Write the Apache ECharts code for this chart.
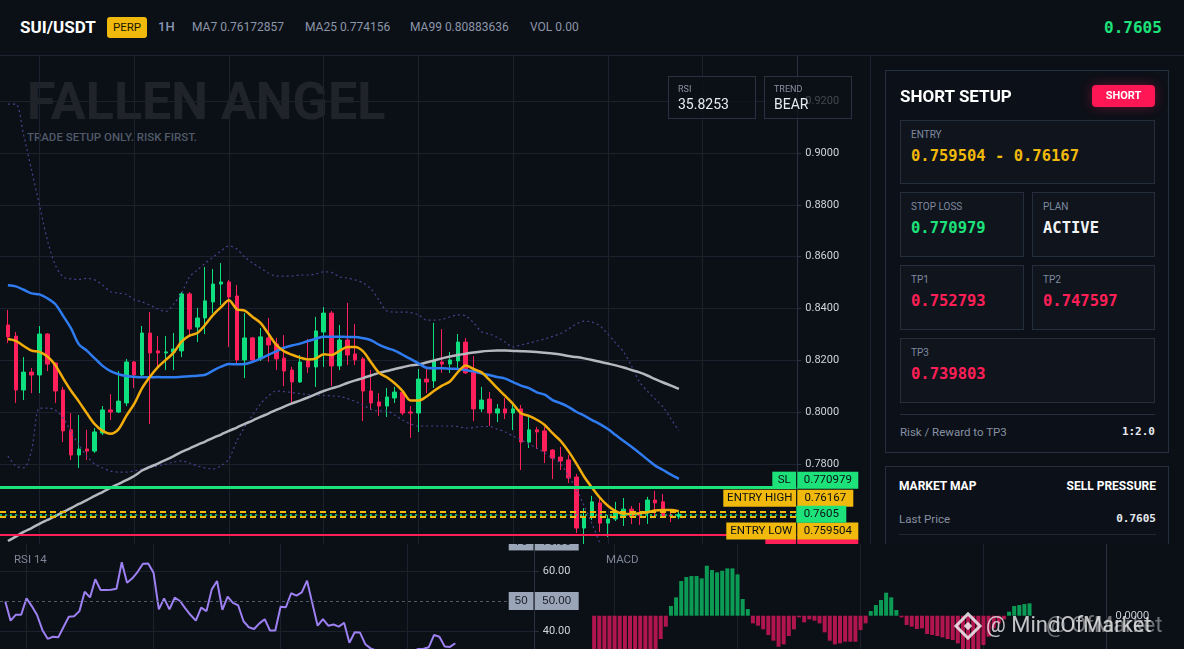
<!DOCTYPE html>
<html lang="en">
<head>
<meta charset="UTF-8">
<title>SUI/USDT Short Setup</title>
<script src="https://cdn.jsdelivr.net/npm/echarts@6/dist/echarts.min.js"></script>
<style>
  * { margin: 0; padding: 0; box-sizing: border-box; }
  body { width: 1184px; height: 649px; overflow: hidden; position: relative; background: #0b0f16; font-family: Roboto, "Noto Sans", sans-serif; color: #e6e9ee; }
  .abs { position: absolute; white-space: nowrap; }
  .mono { font-family: "DejaVu Sans Mono", monospace; font-weight: bold; }
  #header { left: 0; top: 0; width: 1184px; height: 56px; border-bottom: 1px solid #1d2431; }
  .hd { top: 17px; line-height: 20px; font-size: 12px; color: #8b96a9; }
  #main { left: 0; top: 56px; width: 871px; height: 489px; overflow: hidden; border-right: 1px solid #1b2230; }
  #mainChart { position: absolute; left: 0; top: -20px; width: 870px; height: 560px; }
  .info { top: 20px; width: 88px; height: 43px; border: 1px solid #283142; background: rgba(11, 15, 22, 0.72); }
  .info .l { position: absolute; left: 9px; top: 7px; line-height: 10px; font-size: 9px; color: #8a93a3; }
  .info .v { position: absolute; left: 9px; top: 18px; line-height: 18px; font-size: 14px; color: #e8ecf2; }
  .card { background: #0c1018; border: 1px solid #243040; }
  .box { position: absolute; background: #0f141d; border: 1px solid #252e3d; }
  .box .lbl { position: absolute; left: 10px; top: 8px; line-height: 12px; font-size: 10px; color: #7f8aa0; }
  .box .val { position: absolute; left: 10px; top: 25px; line-height: 20px; font-size: 15.5px; }
  .panel { top: 544px; height: 105px; overflow: hidden; background: #0b0f16; }
  .panel .chart { position: absolute; left: 0; top: -30px; height: 160px; }
  .ptitle { top: 8px; line-height: 14px; font-size: 11.5px; color: #7d8697; }
</style>
</head>
<body>
  <div id="header" class="abs">
    <div class="abs" style="left:20px;top:17px;line-height:20px;font-size:17px;font-weight:bold;color:#fff;">SUI/USDT</div>
    <div class="abs" style="left:107px;top:17px;width:40px;height:21px;line-height:21px;text-align:center;font-size:11.5px;color:#1b1600;background:#f0b90b;border-radius:3px;">PERP</div>
    <div class="abs hd" style="left:158px;font-size:13px;font-weight:500;color:#8797b4;">1H</div>
    <div class="abs hd" style="left:192px;">MA7 0.76172857</div>
    <div class="abs hd" style="left:305px;">MA25 0.774156</div>
    <div class="abs hd" style="left:410px;">MA99 0.80883636</div>
    <div class="abs hd" style="left:530px;">VOL 0.00</div>
    <div class="abs mono" style="left:1104px;top:16px;line-height:24px;font-size:16px;color:#1de27a;">0.7605</div>
  </div>

  <div id="main" class="abs">
    <div class="abs" style="left:27px;top:20px;line-height:52px;font-size:52px;font-weight:bold;color:rgba(255,255,255,0.085);">FALLEN ANGEL</div>
    <div class="abs" style="left:27px;top:74px;line-height:14px;font-size:11.5px;font-weight:500;color:#505a69;">TRADE SETUP ONLY. RISK FIRST.</div>
    <div id="mainChart"></div>
    <div class="abs info" style="left:668px;"><div class="l">RSI</div><div class="v">35.8253</div></div>
    <div class="abs info" style="left:764px;"><div class="l">TREND</div><div class="v">BEAR</div></div>
  </div>

  <div class="abs card" style="left:885px;top:70px;width:284px;height:383px;">
    <div class="abs" style="left:14px;top:15px;line-height:20px;font-size:17px;font-weight:bold;color:#fff;">SHORT SETUP</div>
    <div class="abs" style="left:206px;top:14px;width:63px;height:22px;line-height:22px;text-align:center;font-size:11px;font-weight:bold;color:#fff;background:#ff1654;border-radius:4px;box-shadow:0 0 12px rgba(255,22,84,0.35);">SHORT</div>
    <div class="box" style="left:14px;top:49px;width:255px;height:64px;">
      <div class="lbl">ENTRY</div><div class="val mono" style="color:#f0b90b;top:24.5px;">0.759504 - 0.76167</div>
    </div>
    <div class="box" style="left:14px;top:121px;width:124px;height:65px;">
      <div class="lbl">STOP LOSS</div><div class="val mono" style="color:#1de27a;">0.770979</div>
    </div>
    <div class="box" style="left:146px;top:121px;width:123px;height:65px;">
      <div class="lbl">PLAN</div><div class="val mono" style="color:#f2f4f7;">ACTIVE</div>
    </div>
    <div class="box" style="left:14px;top:194px;width:124px;height:65px;">
      <div class="lbl">TP1</div><div class="val mono" style="color:#ff1f57;">0.752793</div>
    </div>
    <div class="box" style="left:146px;top:194px;width:123px;height:65px;">
      <div class="lbl">TP2</div><div class="val mono" style="color:#ff1f57;">0.747597</div>
    </div>
    <div class="box" style="left:14px;top:267px;width:255px;height:65px;">
      <div class="lbl">TP3</div><div class="val mono" style="color:#ff1f57;">0.739803</div>
    </div>
    <div class="abs" style="left:14px;top:343px;width:255px;height:1px;background:#252e3d;"></div>
    <div class="abs" style="left:14px;top:354px;line-height:14px;font-size:11.5px;color:#8791a3;">Risk / Reward to TP3</div>
    <div class="abs mono" style="right:13px;top:354px;line-height:14px;font-size:11px;color:#e6e9ee;">1:2.0</div>
  </div>

  <div class="abs card" style="left:885px;top:466px;width:284px;height:110px;">
    <div class="abs" style="left:13px;top:11px;line-height:16px;font-size:12px;font-weight:bold;color:#fff;">MARKET MAP</div>
    <div class="abs" style="right:12px;top:11px;line-height:16px;font-size:12px;font-weight:bold;color:#fff;">SELL PRESSURE</div>
    <div class="abs" style="left:13px;top:45px;line-height:14px;font-size:11.5px;color:#8791a3;">Last Price</div>
    <div class="abs mono" style="right:12px;top:45px;line-height:14px;font-size:11px;color:#e6e9ee;">0.7605</div>
    <div class="abs" style="left:13px;top:67px;right:12px;height:1px;background:#1f2835;"></div>
  </div>

  <div class="abs panel" style="left:0;width:589px;">
    <div id="rsiChart" class="chart" style="width:589px;"></div>
    <div class="abs ptitle" style="left:14px;">RSI 14</div>
  </div>
  <div class="abs panel" style="left:589px;width:595px;">
    <div id="macdChart" class="chart" style="width:595px;"></div>
    <div class="abs ptitle" style="left:17px;">MACD</div>
  </div>

  <div class="abs" style="left:958px;top:616px;width:20px;height:20px;border:3px solid rgba(240,240,240,0.85);transform:rotate(45deg);"></div>
  <div class="abs" style="left:965px;top:623px;width:6px;height:6px;background:rgba(240,240,240,0.85);transform:rotate(45deg);"></div>
  <div class="abs" style="left:986px;top:611px;line-height:28px;font-size:22px;color:rgba(235,235,235,0.82);">@ MindOfMarket</div>
  <div class="abs" style="left:1046px;top:611px;line-height:28px;font-size:22px;color:rgba(235,235,235,0.45);">@ OfMarket</div>

<script>
  // candles: [open, close, low, high]
  const candles = [
    [0.8336, 0.8290, 0.8266, 0.8394], [0.8293, 0.8085, 0.8035, 0.8309], [0.8085, 0.8154, 0.8046, 0.8212],
    [0.8154, 0.8143, 0.8073, 0.8170], [0.8143, 0.8301, 0.8073, 0.8332], [0.8301, 0.8185, 0.8158, 0.8305],
    [0.8189, 0.8081, 0.8035, 0.8192], [0.8085, 0.7927, 0.7884, 0.8097], [0.7931, 0.7834, 0.7815, 0.7996],
    [0.7834, 0.7857, 0.7784, 0.7988], [0.7857, 0.7849, 0.7815, 0.7931], [0.7849, 0.7923, 0.7842, 0.7938],
    [0.7919, 0.8008, 0.7911, 0.8023], [0.8008, 0.8000, 0.7969, 0.8069], [0.8000, 0.8042, 0.7996, 0.8158],
    [0.8035, 0.8193, 0.8023, 0.8205], [0.8193, 0.8143, 0.8093, 0.8197], [0.8143, 0.8305, 0.8135, 0.8332],
    [0.8305, 0.8228, 0.7954, 0.8386], [0.8236, 0.8228, 0.8170, 0.8293], [0.8228, 0.8232, 0.8162, 0.8293],
    [0.8231, 0.8243, 0.8162, 0.8305], [0.8236, 0.8456, 0.8212, 0.8463], [0.8456, 0.8320, 0.8293, 0.8463],
    [0.8328, 0.8363, 0.8270, 0.8402], [0.8363, 0.8429, 0.8301, 0.8560], [0.8425, 0.8494, 0.8382, 0.8552],
    [0.8494, 0.8502, 0.8413, 0.8575], [0.8502, 0.8444, 0.8251, 0.8510], [0.8448, 0.8201, 0.8189, 0.8490],
    [0.8201, 0.8286, 0.8131, 0.8382], [0.8286, 0.8201, 0.8193, 0.8290], [0.8205, 0.8290, 0.8197, 0.8324],
    [0.8286, 0.8259, 0.8193, 0.8363], [0.8263, 0.8205, 0.8162, 0.8286], [0.8208, 0.8158, 0.8100, 0.8297],
    [0.8162, 0.8116, 0.8035, 0.8174], [0.8116, 0.8193, 0.8112, 0.8220], [0.8197, 0.8174, 0.8151, 0.8282],
    [0.8174, 0.8313, 0.8097, 0.8367], [0.8309, 0.8382, 0.8174, 0.8405], [0.8382, 0.8178, 0.8100, 0.8390],
    [0.8178, 0.8278, 0.8162, 0.8336], [0.8278, 0.8220, 0.8181, 0.8421], [0.8224, 0.8201, 0.8181, 0.8340],
    [0.8205, 0.8081, 0.7965, 0.8212], [0.8081, 0.8035, 0.8008, 0.8162], [0.8039, 0.8023, 0.7985, 0.8073],
    [0.8023, 0.8058, 0.7981, 0.8093], [0.8054, 0.8077, 0.8035, 0.8097], [0.8077, 0.7996, 0.7988, 0.8080],
    [0.8000, 0.7996, 0.7900, 0.8023], [0.7996, 0.8127, 0.7923, 0.8166], [0.8127, 0.8116, 0.8073, 0.8166],
    [0.8120, 0.8197, 0.8093, 0.8344], [0.8193, 0.8185, 0.8151, 0.8320], [0.8185, 0.8201, 0.8151, 0.8232],
    [0.8197, 0.8270, 0.8162, 0.8301], [0.8270, 0.8151, 0.8147, 0.8286], [0.8154, 0.8012, 0.7965, 0.8216],
    [0.8012, 0.8046, 0.8000, 0.8097], [0.8050, 0.7996, 0.7946, 0.8077], [0.7996, 0.8012, 0.7961, 0.8031],
    [0.8012, 0.7996, 0.7973, 0.8054], [0.7996, 0.8012, 0.7930, 0.8035], [0.8012, 0.7884, 0.7776, 0.8027],
    [0.7884, 0.7931, 0.7861, 0.7981], [0.7931, 0.7923, 0.7857, 0.7942], [0.7927, 0.7849, 0.7803, 0.7942],
    [0.7853, 0.7822, 0.7741, 0.7857], [0.7826, 0.7811, 0.7776, 0.7865], [0.7815, 0.7745, 0.7726, 0.7834],
    [0.7749, 0.7552, 0.7533, 0.7761], [0.7552, 0.7595, 0.7490, 0.7629], [0.7595, 0.7653, 0.7583, 0.7676],
    [0.7649, 0.7571, 0.7537, 0.7668], [0.7571, 0.7587, 0.7517, 0.7602], [0.7587, 0.7610, 0.7579, 0.7653],
    [0.7595, 0.7625, 0.7560, 0.7668], [0.7625, 0.7595, 0.7568, 0.7637], [0.7610, 0.7602, 0.7564, 0.7649],
    [0.7610, 0.7660, 0.7568, 0.7672], [0.7660, 0.7649, 0.7595, 0.7695], [0.7653, 0.7595, 0.7591, 0.7683],
    [0.7602, 0.7598, 0.7575, 0.7618], [0.7595, 0.7605, 0.7587, 0.7614]
  ];

  const ma7 = [
    0.8282, 0.8275, 0.8255, 0.8237, 0.8232, 0.8214, 0.8181, 0.8130, 0.8082, 0.8040,
    0.7995, 0.7953, 0.7927, 0.7916, 0.7933, 0.7985, 0.8031, 0.8092, 0.8136, 0.8173,
    0.8201, 0.8229, 0.8272, 0.8295, 0.8305, 0.8337, 0.8375, 0.8405, 0.8431, 0.8397,
    0.8391, 0.8367, 0.8344, 0.8302, 0.8259, 0.8234, 0.8221, 0.8210, 0.8203, 0.8206,
    0.8223, 0.8220, 0.8236, 0.8251, 0.8251, 0.8234, 0.8192, 0.8152, 0.8134, 0.8111,
    0.8081, 0.8044, 0.8044, 0.8059, 0.8082, 0.8102, 0.8118, 0.8154, 0.8180, 0.8166,
    0.8153, 0.8124, 0.8092, 0.8062, 0.8031, 0.7995, 0.7985, 0.7970, 0.7950, 0.7918,
    0.7889, 0.7849, 0.7802, 0.7750, 0.7708, 0.7669, 0.7638, 0.7617, 0.7606, 0.7606,
    0.7609, 0.7613, 0.7620, 0.7622, 0.7622, 0.7617
  ];
  const ma25 = [
    0.8489, 0.8485, 0.8472, 0.8458, 0.8454, 0.8439, 0.8417, 0.8371, 0.8323, 0.8261,
    0.8237, 0.8207, 0.8178, 0.8158, 0.8146, 0.8139, 0.8136, 0.8134, 0.8134, 0.8135,
    0.8134, 0.8134, 0.8136, 0.8138, 0.8140, 0.8144, 0.8160, 0.8175, 0.8185, 0.8184,
    0.8185, 0.8194, 0.8206, 0.8221, 0.8234, 0.8248, 0.8257, 0.8264, 0.8274, 0.8283,
    0.8291, 0.8291, 0.8291, 0.8290, 0.8290, 0.8285, 0.8277, 0.8260, 0.8247, 0.8237,
    0.8221, 0.8205, 0.8188, 0.8171, 0.8169, 0.8169, 0.8167, 0.8166, 0.8162, 0.8157,
    0.8149, 0.8143, 0.8135, 0.8129, 0.8115, 0.8102, 0.8092, 0.8076, 0.8067, 0.8046,
    0.8034, 0.8020, 0.8001, 0.7986, 0.7969, 0.7953, 0.7934, 0.7911, 0.7888, 0.7866,
    0.7842, 0.7817, 0.7793, 0.7776, 0.7758, 0.7742
  ];
  const ma99 = [
    0.7502, 0.7519, 0.7537, 0.7552, 0.7568, 0.7583, 0.7598, 0.7614, 0.7629, 0.7645,
    0.7660, 0.7676, 0.7691, 0.7707, 0.7722, 0.7737, 0.7753, 0.7774, 0.7788, 0.7801,
    0.7815, 0.7830, 0.7846, 0.7859, 0.7873, 0.7886, 0.7900, 0.7913, 0.7927, 0.7940,
    0.7954, 0.7967, 0.7981, 0.7994, 0.8008, 0.8021, 0.8033, 0.8044, 0.8056, 0.8069,
    0.8081, 0.8091, 0.8100, 0.8112, 0.8122, 0.8131, 0.8141, 0.8151, 0.8158, 0.8166,
    0.8173, 0.8180, 0.8183, 0.8191, 0.8199, 0.8207, 0.8214, 0.8220, 0.8225, 0.8230,
    0.8234, 0.8236, 0.8237, 0.8237, 0.8236, 0.8235, 0.8234, 0.8232, 0.8229, 0.8226,
    0.8222, 0.8216, 0.8212, 0.8207, 0.8201, 0.8194, 0.8187, 0.8180, 0.8172, 0.8162,
    0.8153, 0.8141, 0.8127, 0.8114, 0.8102, 0.8089
  ];
  const bollUpper = [
    0.9189, 0.9189, 0.9069, 0.8934, 0.8799, 0.8664, 0.8568, 0.8521, 0.8514, 0.8512,
    0.8516, 0.8510, 0.8490, 0.8464, 0.8459, 0.8454, 0.8434, 0.8425, 0.8413, 0.8398,
    0.8388, 0.8417, 0.8459, 0.8521, 0.8548, 0.8575, 0.8598, 0.8622, 0.8641, 0.8629,
    0.8598, 0.8575, 0.8556, 0.8537, 0.8525, 0.8525, 0.8525, 0.8529, 0.8529, 0.8533,
    0.8541, 0.8539, 0.8522, 0.8517, 0.8510, 0.8498, 0.8475, 0.8432, 0.8390, 0.8386,
    0.8386, 0.8384, 0.8375, 0.8355, 0.8355, 0.8357, 0.8367, 0.8375, 0.8371, 0.8344,
    0.8310, 0.8301, 0.8288, 0.8270, 0.8251, 0.8259, 0.8266, 0.8274, 0.8282, 0.8292,
    0.8303, 0.8320, 0.8340, 0.8351, 0.8347, 0.8332, 0.8301, 0.8266, 0.8232, 0.8178,
    0.8116, 0.8081, 0.8050, 0.8019, 0.7973, 0.7927
  ];
  const bollLower = [
    0.7830, 0.7792, 0.7784, 0.7853, 0.8015, 0.8015, 0.8008, 0.7977, 0.7923, 0.7873,
    0.7830, 0.7799, 0.7784, 0.7772, 0.7768, 0.7768, 0.7772, 0.7780, 0.7784, 0.7792,
    0.7799, 0.7807, 0.7811, 0.7803, 0.7792, 0.7784, 0.7780, 0.7792, 0.7819, 0.7888,
    0.7942, 0.7988, 0.8031, 0.8062, 0.8081, 0.8079, 0.8075, 0.8071, 0.8068, 0.8066,
    0.8064, 0.8062, 0.8060, 0.8052, 0.8041, 0.8027, 0.8010, 0.8004, 0.8004, 0.7988,
    0.7969, 0.7954, 0.7946, 0.7946, 0.7946, 0.7946, 0.7946, 0.7944, 0.7938, 0.7940,
    0.7944, 0.7944, 0.7934, 0.7923, 0.7907, 0.7892, 0.7876, 0.7861, 0.7842, 0.7822,
    0.7802, 0.7753, 0.7703, 0.7637, 0.7568, 0.7494, 0.7429, 0.7371, 0.7320, 0.7282,
    0.7251, 0.7228, 0.7212, 0.7205, 0.7201, 0.7201
  ];

  const rsi14 = [
    49.8, 43.4, 45.4, 45.4, 50.9, 48.3, 45.3, 40.3, 37.3, 38.0,
    37.8, 41.3, 44.7, 44.9, 46.6, 53.1, 51.2, 57.3, 53.7, 53.7,
    53.8, 54.1, 63.0, 56.1, 57.6, 59.8, 62.5, 62.6, 59.5, 47.2,
    50.9, 47.2, 51.1, 50.0, 47.5, 45.3, 43.4, 47.8, 46.6, 53.9,
    56.7, 47.0, 51.5, 49.4, 48.5, 43.2, 41.2, 40.6, 42.5, 43.9,
    40.1, 40.1, 48.1, 47.9, 52.6, 51.8, 52.9, 56.8, 49.2, 41.7,
    43.9, 41.7, 42.1, 41.4, 42.7, 36.0, 39.5, 39.4, 35.5, 34.1,
    33.4, 32.5, 31.0, 30.2, 31.5, 32.8, 32.0, 33.0, 33.9, 34.0,
    34.5, 38.6, 38.0, 34.7, 34.6, 35.8253
  ];

  const macdHist = [
    -0.00140, -0.00150, -0.00160, -0.00160, -0.00150, -0.00150, -0.00160, -0.00170, -0.00180, -0.00170,
    -0.00160, -0.00140, -0.00110, -0.00070, -0.00033, 0.00029, 0.00055, 0.00104, 0.00116, 0.00119,
    0.00119, 0.00112, 0.00150, 0.00137, 0.00130, 0.00135, 0.00142, 0.00142, 0.00124, 0.00050,
    0.00020, -0.00023, -0.00030, -0.00041, -0.00058, -0.00075, -0.00093, -0.00086, -0.00061, -0.00041,
    -0.00005, -0.00020, -0.00011, -0.00015, -0.00023, -0.00050, -0.00075, -0.00086, -0.00083, -0.00078,
    -0.00078, -0.00078, -0.00043, -0.00023, 0.00014, 0.00032, 0.00047, 0.00069, 0.00055, 0.00017,
    -0.00005, -0.00028, -0.00033, -0.00040, -0.00038, -0.00055, -0.00058, -0.00061, -0.00065, -0.00070,
    -0.00073, -0.00083, -0.00103, -0.00105, -0.00108, -0.00103, -0.00088, -0.00063, -0.00038, -0.00023,
    -0.00011, 0.00012, 0.00029, 0.00032, 0.00035, 0.00037
  ];

  // trade levels
  const slPrice = 0.770979;
  const entryHigh = 0.76167;
  const entryLow = 0.759504;
  const lastPrice = 0.7605;
  const tp1 = 0.752793;

  const GREEN = '#1de27a';
  const RED = '#ff1f57';
  const YELLOW = '#f0b90b';
  const gridColor = '#1c222d';
  const axisColor = '#2a3242';
  const labelColor = '#cfd4dc';

  // one empty slot in front so the first bar sits a bit in from the edge
  const slots = Array.from({ length: 102 }, (_, i) => String(i));
  const pad = arr => ['-'].concat(arr);
  const vGrid = step => (i) => i >= 5 && (i - 5) % step === 0;

  function hiddenX(step) {
    return {
      type: 'category', data: slots, boundaryGap: false,
      axisLine: { show: false }, axisTick: { show: false }, axisLabel: { show: false },
      splitLine: { show: true, interval: vGrid(step), lineStyle: { color: gridColor, width: 1 } }
    };
  }

  // horizontal level with a tag box on the price scale
  function level(value, name, color, type, width, nameW, valueW, shiftY, boxH) {
    const h = boxH || 17;
    const seg = { backgroundColor: color, color: '#0b0f16', height: h, lineHeight: h, align: 'center', fontSize: 11.5, fontFamily: 'Roboto' };
    return {
      yAxis: value,
      lineStyle: { color, width, type },
      label: {
        show: true,
        position: 'end',
        distance: name ? -(nameW + 1) : -1,
        padding: shiftY < 0 ? [0, 0, -2 * shiftY, 0] : [2 * shiftY, 0, 0, 0],
        formatter: name ? `{n|${name}}{s| }{v|${value}}` : `{v|${value}}`,
        rich: {
          n: Object.assign({}, seg, { width: nameW }),
          s: { backgroundColor: '#0b0f16', width: 1, height: h, lineHeight: h, fontSize: 1 },
          v: Object.assign({}, seg, { width: valueW })
        }
      }
    };
  }

  const mainChart = echarts.init(document.getElementById('mainChart'));
  const lineSeries = (name, data, color, width, type) => ({
    name, type: 'line', data: pad(data), symbol: 'none', smooth: 0.3, silent: true,
    lineStyle: { color, width, type: type || 'solid' }
  });

  mainChart.setOption({
    animation: false,
    grid: { left: -4.64, right: 72.7, top: 13.4, bottom: 28.6 },
    xAxis: hiddenX(12),
    yAxis: {
      type: 'value', position: 'right', min: 0.74, max: 0.94, interval: 0.02,
      axisLine: { show: true, lineStyle: { color: axisColor } },
      axisTick: { show: true, length: 4, lineStyle: { color: axisColor } },
      axisLabel: {
        color: labelColor, fontSize: 11, margin: 8, fontFamily: 'Roboto',
        formatter: v => (v > 0.775 && v < 0.925) ? v.toFixed(4) : ''
      },
      splitLine: { lineStyle: { color: gridColor } }
    },
    series: [
      {
        name: 'SUI/USDT', type: 'candlestick',
        data: pad(candles).map(c => c === '-' ? ['-', '-', '-', '-'] : c),
        barWidth: 4,
        itemStyle: { color: '#0fe07f', color0: '#ff1f5a', borderColor: '#0fe07f', borderColor0: '#ff1f5a', borderWidth: 1 },
        markLine: {
          silent: true, symbol: ['none', 'none'], animation: false, precision: 6,
          data: [
            level(tp1, 'TP1', RED, 'solid', 2, 31, 61, 15, 21),
            level(slPrice, 'SL', GREEN, 'solid', 3, 24, 61, -7),
            level(entryHigh, 'ENTRY HIGH', YELLOW, [6, 4], 2, 73, 56, -13),
            level(entryLow, 'ENTRY LOW', YELLOW, [6, 4], 2, 70, 61, 14),
            level(lastPrice, '', GREEN, [2, 3], 1.5, 0, 50, 0)
          ]
        }
      },
      lineSeries('BOLL UP', bollUpper, '#4d418f', 1.2, [2, 3]),
      lineSeries('BOLL DN', bollLower, '#4d418f', 1.2, [2, 3]),
      lineSeries('MA99', ma99, '#b5b8bf', 2.5),
      lineSeries('MA25', ma25, '#2f7cf0', 2.5),
      lineSeries('MA7', ma7, '#f2ad0b', 2.5)
    ]
  });

  // RSI panel
  function rsiTag(value) {
    const seg = { backgroundColor: '#9aa5b8', color: '#151a22', height: 18, lineHeight: 18, align: 'center', fontSize: 11.5 };
    return {
      yAxis: value,
      lineStyle: { color: '#505868', width: 1, type: [3, 3] },
      label: {
        show: true, position: 'end', distance: -26,
        formatter: `{n|${value}}{s| }{v|${value.toFixed(2)}}`,
        rich: {
          n: Object.assign({}, seg, { width: 25 }),
          s: { backgroundColor: '#0b0f16', width: 1, height: 18, lineHeight: 18, fontSize: 1 },
          v: Object.assign({}, seg, { width: 44 })
        }
      }
    };
  }

  const rsiChart = echarts.init(document.getElementById('rsiChart'));
  rsiChart.setOption({
    animation: false,
    grid: { left: -2.6, right: 54.3, top: 27.4, bottom: 13.4 },
    xAxis: hiddenX(24),
    yAxis: {
      type: 'value', position: 'right', min: 30, max: 70, interval: 10,
      axisLine: { show: true, lineStyle: { color: axisColor } },
      axisTick: { show: true, length: 4, lineStyle: { color: axisColor } },
      axisLabel: { color: labelColor, fontSize: 11, margin: 8, fontFamily: 'Roboto', formatter: v => v.toFixed(2) },
      splitLine: { lineStyle: { color: [gridColor, gridColor, 'rgba(0,0,0,0)'] } }
    },
    series: [{
      name: 'RSI 14', type: 'line', data: pad(rsi14), symbol: 'none', silent: true,
      lineStyle: { color: '#9d80f2', width: 2 },
      markLine: { silent: true, symbol: ['none', 'none'], animation: false, data: [rsiTag(50), rsiTag(70)] }
    }]
  });

  // MACD histogram panel
  const macdChart = echarts.init(document.getElementById('macdChart'));
  macdChart.setOption({
    animation: false,
    grid: { left: -0.5, right: 77.6, top: 1.7, bottom: 8.3 },
    xAxis: hiddenX(24),
    yAxis: {
      type: 'value', position: 'right', min: -0.0015, max: 0.003, interval: 0.0015,
      axisLine: { show: true, lineStyle: { color: axisColor } },
      axisTick: { show: false },
      axisLabel: { color: labelColor, fontSize: 11, margin: 9, formatter: v => Math.abs(v) < 1e-9 ? '0.0000' : '' },
      splitLine: { show: false }
    },
    series: [{
      name: 'MACD', type: 'bar', data: pad(macdHist), barWidth: 4, silent: true,
      itemStyle: { color: p => p.value >= 0 ? '#0b9b55' : '#b0154e' }
    }]
  });
</script>
</body>
</html>
